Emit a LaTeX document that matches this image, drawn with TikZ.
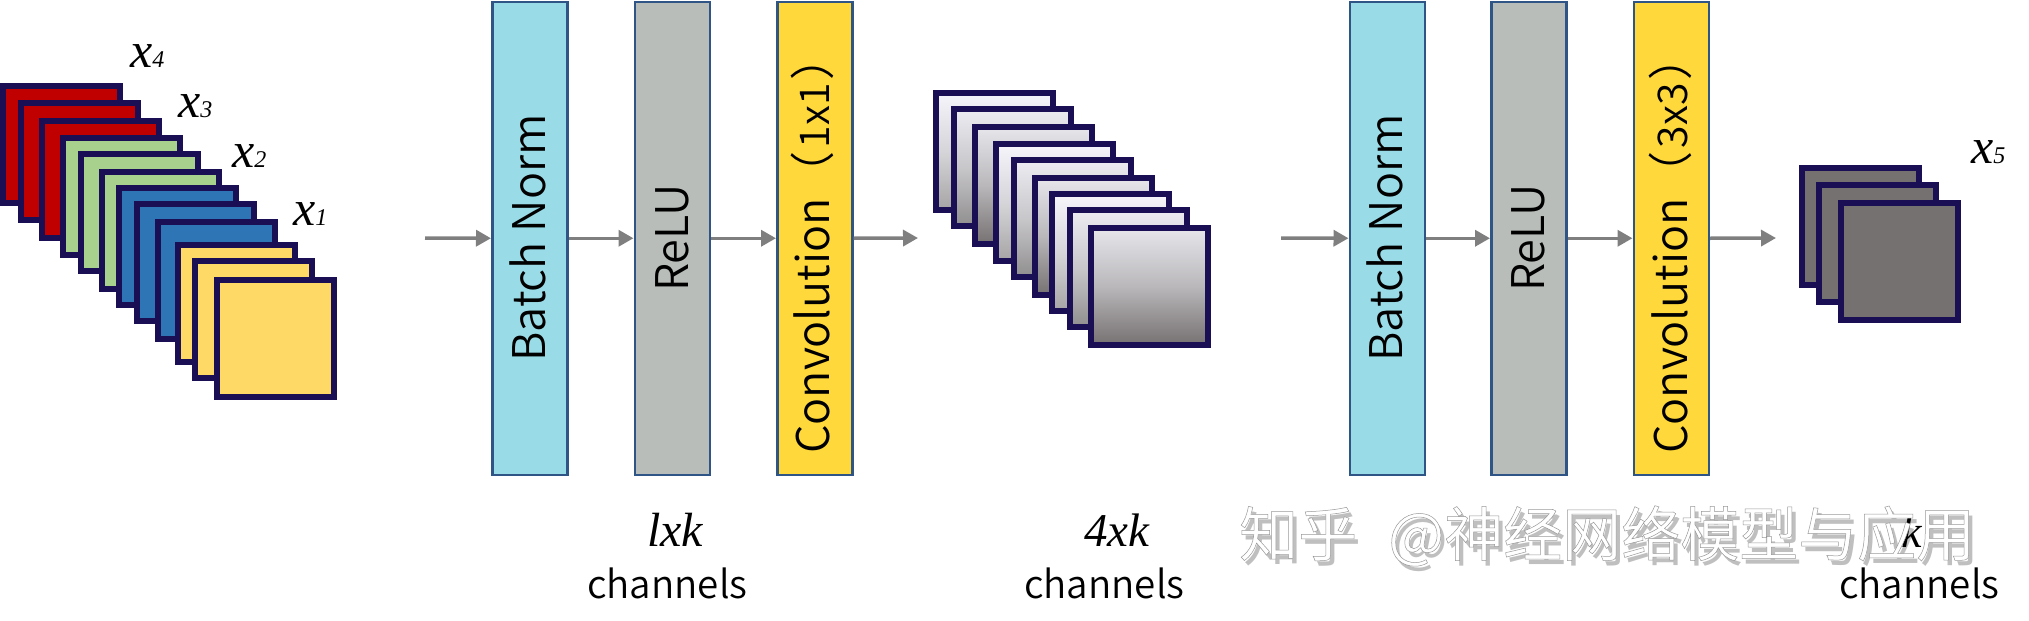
\documentclass[tikz,border=0pt]{standalone}
\usepackage{fontspec}
\usetikzlibrary{arrows.meta}
\setmainfont{Liberation Serif}
\newfontfamily\yh{Noto Sans CJK SC DemiLight}
\newfontfamily\wm{Noto Sans CJK SC}
\definecolor{navy}{HTML}{1A0F55}
\definecolor{colline}{HTML}{2F5587}
\definecolor{arrowgrey}{HTML}{7F7F7F}
\definecolor{redfill}{HTML}{C00000}
\definecolor{greenfill}{HTML}{A9D18E}
\definecolor{bluefill}{HTML}{2E75B6}
\definecolor{yellowfill}{HTML}{FFD966}
\definecolor{greyfill}{HTML}{767171}
\definecolor{colblue}{HTML}{99DCE8}
\definecolor{colgrey}{HTML}{B8BDB9}
\definecolor{colyellow}{HTML}{FFD93B}
\definecolor{gtopa}{HTML}{F5F5FB}
\definecolor{gtopb}{HTML}{ECECF2}
\definecolor{gtopc}{HTML}{E6E6EB}
\definecolor{gbota}{HTML}{A6A4A4}
\definecolor{gbotb}{HTML}{908E8E}
\definecolor{gbotc}{HTML}{767171}
\newcommand{\xlab}[2]{{\fontsize{50}{50}\selectfont\itshape #1}{\fontsize{24}{24}\selectfont\itshape #2}}
\newcommand{\convlab}[1]{Convolution\kern2pt （\kern3pt{\fontsize{41}{41}\selectfont #1}\kern3pt）}
\tikzset{
  sheet/.style={draw=navy,line width=6pt,fill=#1,anchor=north west,minimum width=117pt,minimum height=117pt,inner sep=0pt},
  gradsheet/.style 2 args={draw=navy,line width=6pt,top color=#1,bottom color=#2,middle color=#1!60!#2,anchor=north west,minimum width=117pt,minimum height=117pt,inner sep=0pt},
  column/.style={draw=colline,line width=2.5pt,fill=#1,anchor=north west,minimum width=75pt,minimum height=473pt,inner sep=0pt},
  coltext/.style={rotate=90,anchor=base west,inner sep=0pt,font=\yh\fontsize{45}{45}\selectfont},
  flow/.style={draw=arrowgrey,line width=3.5pt,-{Triangle[length=15pt,width=16pt]}},
  chan/.style={anchor=base west,inner sep=0pt,font=\yh\fontsize{38.5}{38.5}\selectfont},
  mathlab/.style={anchor=base west,inner sep=0pt},
}
\begin{document}
\begin{tikzpicture}[x=1pt,y=-1pt]
\useasboundingbox (0,0) rectangle (2029,621);
% left stack
\foreach \n/\px/\py/\c in {1/0/83/redfill,2/18/100/redfill,3/39/118/redfill,4/60/135/greenfill,5/78/151/greenfill,6/99/169/greenfill,7/116/185/bluefill,8/134/201/bluefill,9/155/219/bluefill,10/175/242/yellowfill,11/192/258/yellowfill,12/214/277/yellowfill}
  \node[sheet=\c] (a\n) at (\px,\py) {};
% labels
\node[mathlab] (x4) at (130,67) {\xlab{x}{4}};
\node[mathlab] (x3) at (178,117) {\xlab{x}{3}};
\node[mathlab] (x2) at (232,167) {\xlab{x}{2}};
\node[mathlab] (x1) at (293,225) {\xlab{x}{1}};
% first columns
\node[column=colblue] (c1) at (491,0.5) {};
\node[column=colgrey] (c2) at (633.5,0.5) {};
\node[column=colyellow] (c3) at (776,0.5) {};
\node[coltext] (t1) at (545,362) {Batch Norm};
\node[coltext] (t2) at (688,292) {ReLU};
\node[coltext] (t3) at (829,454) {\convlab{1x1}};
\coordinate (in1) at (425,238);
\coordinate (out1) at (918,238);
\draw[flow] (in1) -- (c1.west);
\draw[flow] (c1.east) -- (c2.west);
\draw[flow] (c2.east) -- (c3.west);
\draw[flow] (c3.east) -- (out1);
% middle stack
\foreach \n/\px/\py/\ct/\cb in {1/933/90/gtopa/gbota,2/951/106/gtopb/gbotb,3/972/124/gtopc/gbotc,4/993/141/gtopa/gbota,5/1011/157/gtopb/gbotb,6/1032/175/gtopc/gbotc,7/1049/191/gtopa/gbota,8/1067/207/gtopb/gbotb,9/1088/225/gtopc/gbotc}
  \node[gradsheet={\ct}{\cb}] (b\n) at (\px,\py) {};
% second columns
\node[column=colblue] (d1) at (1348.5,0.5) {};
\node[column=colgrey] (d2) at (1490,0.5) {};
\node[column=colyellow] (d3) at (1632.5,0.5) {};
\node[coltext] (u1) at (1402,362) {Batch Norm};
\node[coltext] (u2) at (1544,292) {ReLU};
\node[coltext] (u3) at (1687,454) {\convlab{3x3}};
\coordinate (in2) at (1281,238);
\coordinate (out2) at (1776,238);
\draw[flow] (in2) -- (d1.west);
\draw[flow] (d1.east) -- (d2.west);
\draw[flow] (d2.east) -- (d3.west);
\draw[flow] (d3.east) -- (out2);
% right stack
\foreach \n/\px/\py in {1/1799/165,2/1816/182,3/1838/200}
  \node[sheet=greyfill] (e\n) at (\px,\py) {};
\node[mathlab] (x5) at (1971,163) {\xlab{x}{5}};
% bottom labels
\node[mathlab] (l1) at (647,546) {\fontsize{48}{48}\selectfont\itshape lxk};
\node[mathlab] (l2) at (1084,546) {\fontsize{47}{47}\selectfont\itshape 4xk};
\node[chan] (ch1) at (587,598) {channels};
\node[chan] (ch2) at (1024,598) {channels};
\node[chan] (ch3) at (1839,598) {channels};
% watermark
\node[anchor=base west,inner sep=0pt,text=black!25,font=\wm\fontsize{59}{59}\selectfont] (wmshadow) at (1243,561) {知乎 \hspace{18pt}@神经网络模型与应用};
\node[mathlab] (l3) at (1901,547) {\fontsize{46}{46}\selectfont\itshape k};
\node[anchor=base west,inner sep=0pt,text=white,font=\wm\fontsize{59}{59}\selectfont] (wmtext) at (1239,556) {\special{pdf: code q 2 Tr 0.5 w 0.6 G 1 g}知乎 \hspace{18pt}@神经网络模型与应用\special{pdf: code Q}};
\end{tikzpicture}
\end{document}
